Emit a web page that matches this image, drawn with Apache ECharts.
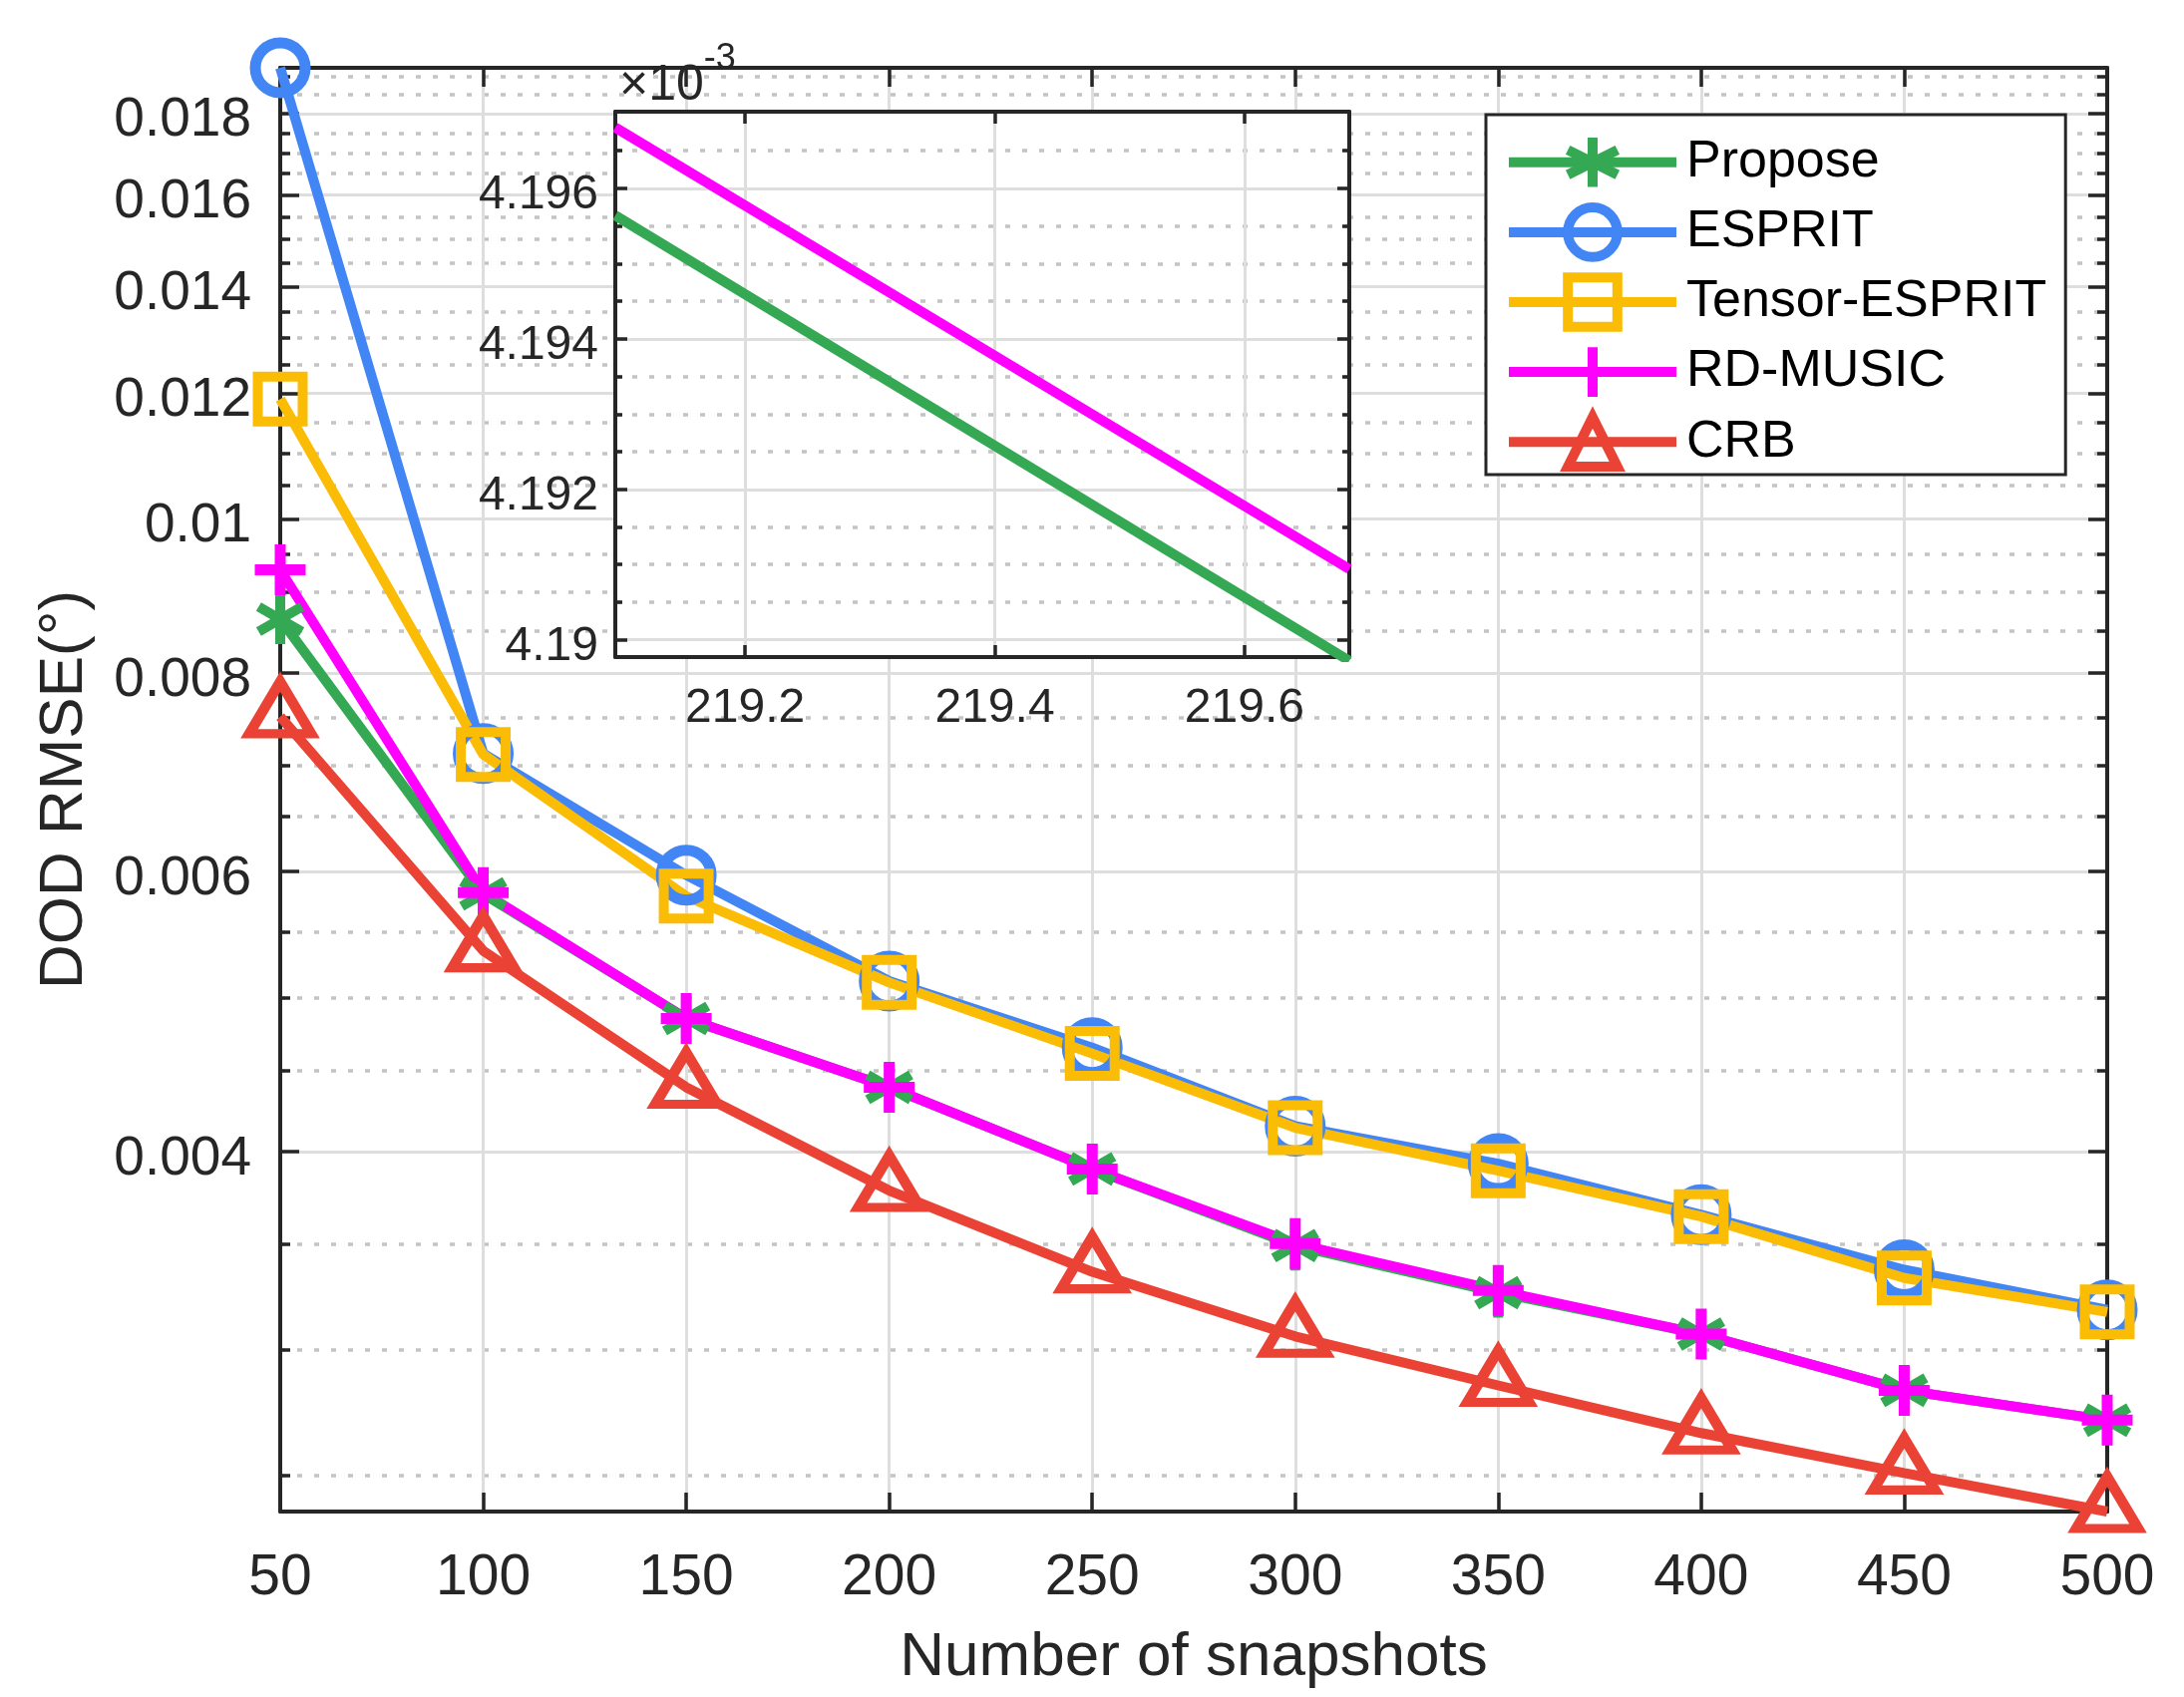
<!DOCTYPE html>
<html lang="en">
<head>
    <meta charset="utf-8">
    <title>DOD RMSE vs number of snapshots</title>
    <script type="text/javascript" src="https://cdn.jsdelivr.net/npm/echarts@6.0.0/dist/echarts.min.js"></script>
    <style>
        html, body { margin: 0; padding: 0; background: #fff; }
        #main { width: 2190px; height: 1702px; }
    </style>
</head>
<body>
<div id="main"></div>
<script>
    // values
    var snapshots = [50, 100, 150, 200, 250, 300, 350, 400, 450, 500];
    var propose = [0.00865, 0.00581, 0.00485, 0.00439, 0.00390, 0.00349, 0.00326, 0.00307, 0.00283, 0.00271];
    var esprit = [0.01923, 0.00712, 0.00597, 0.00512, 0.00465, 0.00415, 0.00393, 0.00365, 0.00337, 0.00318];
    var tensorEsprit = [0.01190, 0.00711, 0.00579, 0.00511, 0.00461, 0.00414, 0.00389, 0.00364, 0.00333, 0.00317];
    var rdMusic = [0.00929, 0.00582, 0.00485, 0.00439, 0.00390, 0.00350, 0.00327, 0.00307, 0.00283, 0.00271];
    var crb = [0.00751, 0.00535, 0.00439, 0.00378, 0.00336, 0.00306, 0.00285, 0.00266, 0.00251, 0.002374];

    var yMin = 0.002374, yMax = 0.01923;
    var yTicks = [0.004, 0.006, 0.008, 0.01, 0.012, 0.014, 0.016, 0.018];
    var yTickLabels = ['0.004', '0.006', '0.008', '0.01', '0.012', '0.014', '0.016', '0.018'];
    var yMinorTicks = [0.0025, 0.003, 0.0035, 0.0045, 0.005, 0.0055, 0.0065, 0.007, 0.0075, 0.0085, 0.009, 0.0095,
        0.0105, 0.011, 0.0115, 0.0125, 0.013, 0.0135, 0.0145, 0.015, 0.0155, 0.0165, 0.017, 0.0175, 0.0185, 0.019];

    // zoomed inset (y in units of 1e-3)
    var insetX = [219.096, 219.684];
    var insetPropose = [4.19564, 4.18972];
    var insetRdMusic = [4.19681, 4.19094];
    var insetXMin = 219.096, insetXMax = 219.684;
    var insetYMin = 4.18977, insetYMax = 4.19702;
    var insetXTicks = [219.2, 219.4, 219.6];
    var insetXTickLabels = ['219.2', '219.4', '219.6'];
    var insetYTicks = [4.19, 4.192, 4.194, 4.196];
    var insetYTickLabels = ['4.19', '4.192', '4.194', '4.196'];
    var insetYMinorTicks = [4.1905, 4.191, 4.1915, 4.1925, 4.193, 4.1935, 4.1945, 4.195, 4.1955, 4.1965];

    var AXIS = '#262626';
    var GRIDC = '#dedede';
    var DOTC = '#c4c4c4';
    var FONT = '"Liberation Sans", Arial, Helvetica, sans-serif';

    function lg(v) { return Math.log10(v); }
    function pick(values, labels) {
        return function (v) {
            for (var i = 0; i < values.length; i++) {
                if (Math.abs(values[i] - v) < 1e-7) return labels[i];
            }
            return '';
        };
    }
    function pairs(xs, ys) {
        return xs.map(function (x, i) { return [x, ys[i]]; });
    }

    var yTicksLog = yTicks.map(lg);
    var yMinorLog = yMinorTicks.map(lg);

    // one axis only carrying ticks / grid lines
    function tickAxis(o) {
        return {
            type: 'value', gridIndex: o.grid, position: o.pos, min: o.min, max: o.max, z: o.z || 0,
            axisLine: {show: !!o.line, onZero: false, lineStyle: {color: AXIS, width: 4}},
            axisTick: {show: true, inside: true, length: o.len, customValues: o.ticks,
                lineStyle: {color: AXIS, width: 3.5}},
            axisLabel: {show: false, customValues: o.ticks},
            splitLine: {show: !!o.split, lineStyle: o.split || {}}
        };
    }

    var solid = {color: GRIDC, width: 3};
    var dotted = {color: DOTC, width: 3.5, type: [5, 12]};

    var myChart = echarts.init(document.getElementById('main'));

    var option = {
        backgroundColor: '#fff',
        animation: false,
        grid: [
            {left: 281, top: 68, width: 1832, height: 1448, outerBoundsMode: 'none'},
            {left: 617, top: 112, width: 736, height: 547, show: true, backgroundColor: '#fff',
                borderWidth: 0, z: 3, outerBoundsMode: 'none'}
        ],
        xAxis: [
            {
                type: 'value', gridIndex: 0, position: 'bottom', min: 50, max: 500, interval: 50,
                name: 'Number of snapshots', nameLocation: 'middle', nameGap: 116, nameMoveOverlap: false,
                nameTextStyle: {fontSize: 62, color: AXIS, fontFamily: FONT},
                axisLine: {show: true, onZero: false, lineStyle: {color: AXIS, width: 4}},
                axisTick: {show: true, inside: true, length: 19, lineStyle: {color: AXIS, width: 3.5}},
                axisLabel: {fontSize: 57, margin: 39, color: AXIS, fontFamily: FONT},
                splitLine: {show: true, lineStyle: solid}
            },
            {
                type: 'value', gridIndex: 0, position: 'top', min: 50, max: 500, interval: 50,
                axisLine: {show: true, onZero: false, lineStyle: {color: AXIS, width: 4}},
                axisTick: {show: true, inside: true, length: 19, lineStyle: {color: AXIS, width: 3.5}},
                axisLabel: {show: false},
                splitLine: {show: false}
            },
            {
                type: 'value', gridIndex: 1, position: 'bottom', min: insetXMin, max: insetXMax, z: 4,
                axisLine: {show: true, onZero: false, lineStyle: {color: AXIS, width: 4}},
                axisTick: {show: true, inside: true, length: 12, customValues: insetXTicks,
                    lineStyle: {color: AXIS, width: 3.5}},
                axisLabel: {customValues: insetXTicks, fontSize: 48, margin: 28, color: AXIS, fontFamily: FONT,
                    formatter: pick(insetXTicks, insetXTickLabels)},
                splitLine: {show: true, lineStyle: solid}
            },
            {
                type: 'value', gridIndex: 1, position: 'top', min: insetXMin, max: insetXMax, z: 4,
                axisLine: {show: true, onZero: false, lineStyle: {color: AXIS, width: 4}},
                axisTick: {show: true, inside: true, length: 12, customValues: insetXTicks,
                    lineStyle: {color: AXIS, width: 3.5}},
                axisLabel: {show: false, customValues: insetXTicks},
                splitLine: {show: false}
            }
        ],
        yAxis: [
            // scale used by the plotted series
            {type: 'log', gridIndex: 0, logBase: 10, min: yMin, max: yMax, show: false,
                splitLine: {show: false}, axisLine: {show: false}},
            {
                type: 'value', gridIndex: 0, position: 'left', min: lg(yMin), max: lg(yMax),
                name: 'DOD RMSE(°)', nameLocation: 'middle', nameGap: 185, nameMoveOverlap: false,
                nameTextStyle: {fontSize: 62, color: AXIS, fontFamily: FONT},
                axisLine: {show: true, onZero: false, lineStyle: {color: AXIS, width: 4}},
                axisTick: {show: true, inside: true, length: 19, customValues: yTicksLog,
                    lineStyle: {color: AXIS, width: 3.5}},
                axisLabel: {customValues: yTicksLog, fontSize: 55, margin: 29, color: AXIS, fontFamily: FONT,
                    verticalAlign: 'top', lineHeight: 15, formatter: pick(yTicksLog, yTickLabels)},
                splitLine: {show: true, lineStyle: solid}
            },
            tickAxis({grid: 0, pos: 'left', min: lg(yMin), max: lg(yMax), len: 10, ticks: yMinorLog, split: dotted}),
            tickAxis({grid: 0, pos: 'right', min: lg(yMin), max: lg(yMax), len: 19, ticks: yTicksLog, line: true}),
            tickAxis({grid: 0, pos: 'right', min: lg(yMin), max: lg(yMax), len: 10, ticks: yMinorLog}),
            {
                type: 'value', gridIndex: 1, position: 'left', min: insetYMin, max: insetYMax, z: 4,
                name: '{a|×10}{b|-3}', nameLocation: 'end', nameGap: 1, nameMoveOverlap: false,
                nameTextStyle: {align: 'left', verticalAlign: 'bottom', padding: [0, 0, 0, 4],
                    rich: {
                        a: {fontSize: 50, lineHeight: 70, verticalAlign: 'bottom', color: AXIS, fontFamily: FONT},
                        b: {fontSize: 36, lineHeight: 36, verticalAlign: 'top', color: AXIS, fontFamily: FONT}
                    }},
                axisLine: {show: true, onZero: false, lineStyle: {color: AXIS, width: 4}},
                axisTick: {show: true, inside: true, length: 12, customValues: insetYTicks,
                    lineStyle: {color: AXIS, width: 3.5}},
                axisLabel: {customValues: insetYTicks, fontSize: 48, margin: 17, color: AXIS, fontFamily: FONT,
                    verticalAlign: 'top', lineHeight: 14, formatter: pick(insetYTicks, insetYTickLabels)},
                splitLine: {show: true, lineStyle: solid}
            },
            tickAxis({grid: 1, pos: 'left', min: insetYMin, max: insetYMax, len: 7, ticks: insetYMinorTicks, split: dotted, z: 4}),
            tickAxis({grid: 1, pos: 'right', min: insetYMin, max: insetYMax, len: 12, ticks: insetYTicks, line: true, z: 4}),
            tickAxis({grid: 1, pos: 'right', min: insetYMin, max: insetYMax, len: 7, ticks: insetYMinorTicks, z: 4})
        ],
        legend: {
            orient: 'vertical', left: 1490, top: 115, z: 6,
            padding: [18, 19, 3, 18], itemWidth: 168, itemHeight: 62, itemGap: 10.5,
            backgroundColor: '#fff', borderColor: AXIS, borderWidth: 3, borderRadius: 0,
            selectedMode: false,
            textStyle: {fontSize: 52, color: '#000', fontFamily: FONT, padding: [0, 0, 0, 5]},
            itemStyle: {borderWidth: 10},
            lineStyle: {width: 10},
            data: ['Propose', 'ESPRIT', 'Tensor-ESPRIT', 'RD-MUSIC', 'CRB']
        },
        series: [
            {
                name: 'Propose', type: 'line', xAxisIndex: 0, yAxisIndex: 0, clip: false,
                data: pairs(snapshots, propose),
                symbol: 'path://M0,-1L0,1M-0.866,-0.5L0.866,0.5M-0.866,0.5L0.866,-0.5',
                symbolKeepAspect: true, symbolSize: 50,
                lineStyle: {color: '#34A853', width: 10},
                itemStyle: {color: 'none', borderColor: '#34A853', borderWidth: 10}
            },
            {
                name: 'ESPRIT', type: 'line', xAxisIndex: 0, yAxisIndex: 0, clip: false,
                data: pairs(snapshots, esprit),
                symbol: 'circle', symbolSize: 50,
                lineStyle: {color: '#4285F4', width: 10},
                itemStyle: {color: 'none', borderColor: '#4285F4', borderWidth: 11}
            },
            {
                name: 'Tensor-ESPRIT', type: 'line', xAxisIndex: 0, yAxisIndex: 0, clip: false,
                data: pairs(snapshots, tensorEsprit),
                symbol: 'rect', symbolSize: 45,
                lineStyle: {color: '#FBBC05', width: 10},
                itemStyle: {color: 'none', borderColor: '#FBBC05', borderWidth: 10}
            },
            {
                name: 'RD-MUSIC', type: 'line', xAxisIndex: 0, yAxisIndex: 0, clip: false,
                data: pairs(snapshots, rdMusic),
                symbol: 'path://M0,-1L0,1M-1,0L1,0', symbolSize: 51,
                lineStyle: {color: '#FF00FF', width: 10},
                itemStyle: {color: 'none', borderColor: '#FF00FF', borderWidth: 11}
            },
            {
                name: 'CRB', type: 'line', xAxisIndex: 0, yAxisIndex: 0, clip: false,
                data: pairs(snapshots, crb),
                symbol: 'triangle', symbolSize: [62, 52], symbolOffset: [0, -9],
                lineStyle: {color: '#EA4335', width: 10},
                itemStyle: {color: 'none', borderColor: '#EA4335', borderWidth: 10,
                    borderJoin: 'miter', borderMiterLimit: 10}
            },
            {
                name: 'inset-propose', type: 'line', xAxisIndex: 2, yAxisIndex: 5, z: 5,
                data: pairs(insetX, insetPropose), showSymbol: false, symbol: 'none',
                lineStyle: {color: '#34A853', width: 10}
            },
            {
                name: 'inset-rdmusic', type: 'line', xAxisIndex: 2, yAxisIndex: 5, z: 5,
                data: pairs(insetX, insetRdMusic), showSymbol: false, symbol: 'none',
                lineStyle: {color: '#FF00FF', width: 10}
            }
        ]
    };
    myChart.setOption(option);
</script>
</body>
</html>
